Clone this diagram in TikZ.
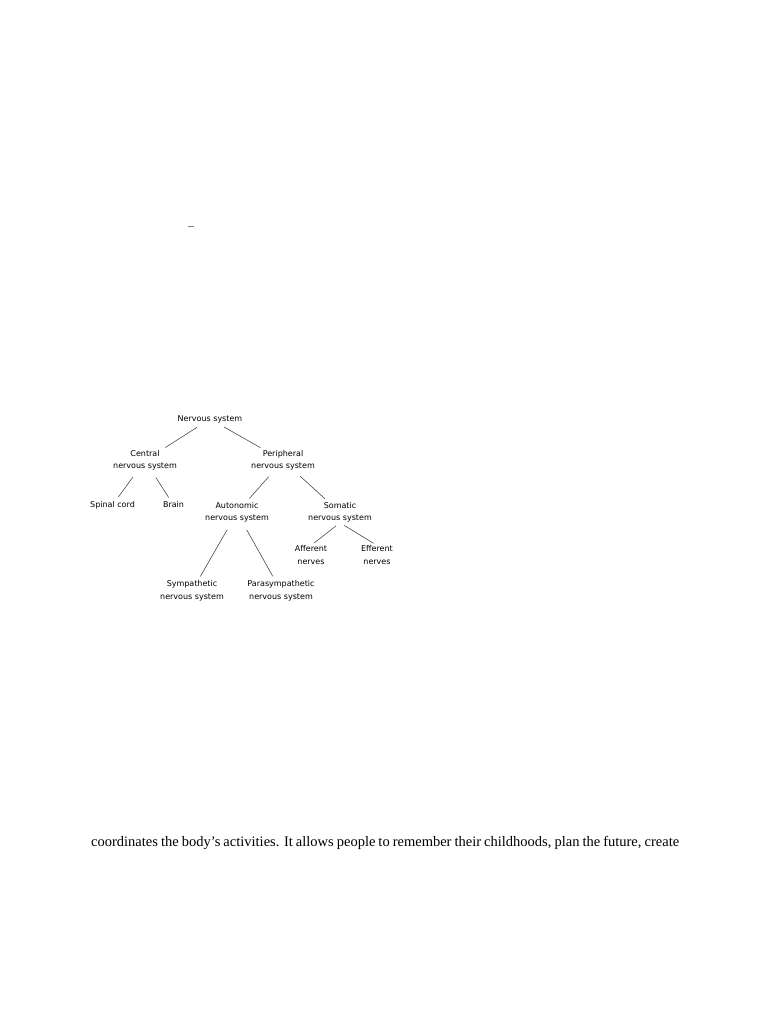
\documentclass[tikz,border=0pt]{standalone}
\usepackage{fontspec}
\setmainfont{Liberation Serif}
\newfontfamily\chartfont{DejaVu Sans}
\usepackage{tikz}
\usetikzlibrary{calc}

\begin{document}
\begin{tikzpicture}[x=1pt,y=-1pt,
  part/.style={align=center,inner sep=0pt,font=\chartfont\fontsize{8}{12.5}\selectfont},
  branch/.style={draw=black!75,line width=0.55pt,shorten <=8pt,shorten >=5pt}]% [scale=0.8]
\useasboundingbox (0,0) rectangle (768,1024);
\fill[white] (0,0) rectangle (768,1024);

\draw[gray, line width=1.3pt] (187.5,226.5) -- (193.5,226.5);

% the tree
\node[part] (ns) at (210,419) {Nervous system};
\node[part] (cns) at (145,460.5) {Central\\nervous system};
\node[part] (pns) at (283,460.5) {Peripheral\\nervous system};
\node[part] (sc) at (112.5,505) {Spinal cord};
\node[part] (br) at (173.5,505) {Brain};
\node[part] (ans) at (237,512.5) {Autonomic\\nervous system};
\node[part] (sns) at (340,512.5) {Somatic\\nervous system};
\node[part] (af) at (311,555) {Afferent\\nerves};
\node[part] (ef) at (377,555) {Efferent\\nerves};
\node[part] (sym) at (192,591) {Sympathetic\\nervous system};
\node[part] (par) at (281,591) {Parasympathetic\\nervous system};

\draw[branch] (ns) -- (cns);
\draw[branch] (ns) -- (pns);
\draw[branch] (cns) -- (sc);
\draw[branch] (cns) -- (br);
\draw[branch] (pns) -- (ans);
\draw[branch] (pns) -- (sns);
\draw[branch] (ans) -- (sym);
\draw[branch] (ans) -- (par);
\draw[branch, shorten <=5pt, shorten >=4pt] (sns.south) -- (af.north);
\draw[branch, shorten <=5pt, shorten >=4pt] (sns.south) -- (ef.north);

\node[anchor=base west,inner sep=0pt,font=\fontsize{14.5}{17}\selectfont] (body) at (91,846)
  {\makebox[588pt][s]{coordinates the body’s activities. It allows people to remember their childhoods, plan the future, create}};
\end{tikzpicture}
\end{document}
